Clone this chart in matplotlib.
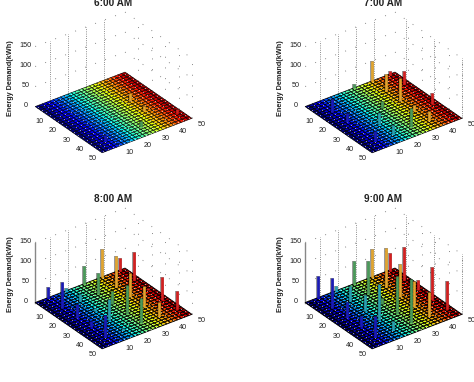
import numpy as np
import matplotlib
matplotlib.use('Agg')
import matplotlib.pyplot as plt

plt.rcParams['font.family'] = ['Liberation Sans', 'DejaVu Sans']

titles = ['6:00 AM', '7:00 AM', '8:00 AM', '9:00 AM']

# where the demand spikes stand on the 50x50 floor
x_stem = [7, 17, 27, 37, 47]
y_stem = [0.5, 11, 21.5, 32, 42.5]
stem_colors = ['#1a1ab8', '#2a9fb0', '#4a9a5a', '#e2a52e', '#d42020']

# demand in kWh, one row per y_stem, one column per x_stem
demand_6am = [[0, 0, 0, 0, 0],
              [0, 0, 0, 0, 0],
              [0, 0, 0, 20, 0],
              [0, 0, 0, 11, 0],
              [16, 0, 15, 0, 10]]
demand_7am = [[0, 0, 10, 50, 9],
              [31, 0, 0, 42, 34],
              [22, 0, 17, 58, 0],
              [0, 29, 0, 13, 28],
              [24, 24, 48, 23, 0]]
demand_8am = [[29, 8, 46, 72, 31],
              [64, 17, 53, 79, 70],
              [34, 8, 33, 61, 5],
              [16, 53, 71, 52, 56],
              [55, 5, 64, 35, 47]]
demand_9am = [[55, 13, 59, 70, 44],
              [74, 38, 83, 99, 83],
              [38, 39, 15, 82, 24],
              [29, 90, 94, 64, 81],
              [53, 23, 110, 60, 72]]
demand = [demand_6am, demand_7am, demand_8am, demand_9am]

ticks_xy = [10, 20, 30, 40, 50]
ticks_z = [0, 50, 100, 150]

mesh_width = [0.4, 0.5, 0.6, 0.65]

W, H = 474, 382
fig = plt.figure(figsize=(W/100, H/100), dpi=100)

S = 190
X, Y = np.meshgrid(np.arange(0, 51), np.arange(0, 51))
Z = np.zeros(X.shape)
colors = plt.cm.jet(X/50)
dot_x, dot_y = np.meshgrid(np.arange(1, 50, 3), np.arange(1, 50, 3))
sparse = (0, (1, 10))

for i in range(4):
    px = 16 + 270*(i % 2)
    py = -10 + 196*(i//2)
    ax = fig.add_axes([px/W, 1-(py+S)/H, S/W, S/H], projection='3d', proj_type='ortho')
    ax.computed_zorder = False
    ax.view_init(elev=31, azim=-126.7)
    ax.set_box_aspect((1, 1, 0.625), zoom=0.885)
    ax.set_xlim(0, 50)
    ax.set_ylim(50, 0)
    ax.set_zlim(0, 150)
    ax.set_axis_off()
    ax.patch.set_alpha(0)

    # dotted back walls
    for t in ticks_xy[:-1]:
        ax.plot([t-1.5, t-1.5], [0, 0], [0, 150], ls=':', color='#666666', lw=0.6, zorder=1)
    for t in ticks_xy:
        ax.plot([50, 50], [t, t], [0, 150], ls=sparse, color='#888888', lw=0.7, zorder=1)
    if i % 2 == 1:
        for t in [8, 29, 50]:
            ax.plot([50, 50], [t, t], [0, 150], ls=':', color='#666666', lw=0.6, zorder=1)
    for t in ticks_z[1:]:
        ax.plot([0, 50], [0, 0], [t, t], ls=sparse, color='#888888', lw=0.7, zorder=1)
        ax.plot([50, 50], [0, 50], [t, t], ls=sparse, color='#888888', lw=0.7, zorder=1)
    if i >= 2:
        ax.plot([0, 0], [0, 0], [0, 150], color='#888888', lw=1.0, zorder=1)

    ax.plot_surface(X, Y, Z, facecolors=colors, rstride=2, cstride=2, shade=False,
                    edgecolor='black', linewidth=mesh_width[i], zorder=2)
    ax.scatter(dot_x.ravel(), dot_y.ravel(), np.zeros(dot_x.size), s=0.6, c='white',
               alpha=0.65, linewidths=0, depthshade=False, zorder=2.5)

    for j in range(5):
        for k in range(5):
            if demand[i][j][k] > 0:
                # dark underlay keeps the stem readable against the same coloured floor
                ax.plot([x_stem[k], x_stem[k]], [y_stem[j], y_stem[j]], [0, demand[i][j][k]],
                        color='black', alpha=0.45, lw=2.7, solid_capstyle='butt', zorder=3+j)
                ax.plot([x_stem[k], x_stem[k]], [y_stem[j], y_stem[j]], [0, demand[i][j][k]],
                        color=stem_colors[k], lw=1.9, solid_capstyle='butt', zorder=3+j)

    for t in ticks_xy:
        ax.text(t, 57, 0, str(t), fontsize=5.2, ha='center', va='center', color='#222222')
        ax.text(-5, t, -6, str(t), fontsize=5.2, ha='center', va='center', color='#222222')
    for t in ticks_z:
        ax.text(-3, -3, t, str(t), fontsize=5.2, ha='center', va='center', color='#222222')

    ox = 270*(i % 2)
    oy = 196*(i//2)
    fig.text((113+ox)/W, 1-(3+oy)/H, titles[i], fontsize=7.2, fontweight='bold',
             ha='center', va='center', color='#222222')
    fig.text((11+ox)/W, 1-(78+oy)/H, 'Energy Demand(kWh)', fontsize=5.2, fontweight='bold',
             rotation=90, ha='center', va='center', color='#222222')

fig.savefig('out.png', dpi=100)
